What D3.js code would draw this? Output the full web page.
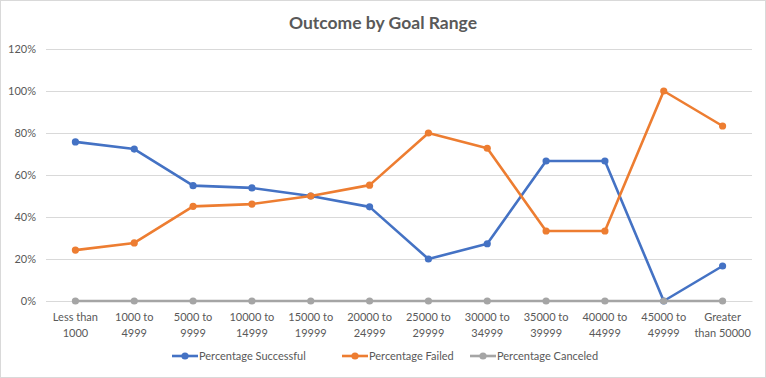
<!DOCTYPE html>
<html><head><meta charset="utf-8">
<script src="https://cdn.jsdelivr.net/npm/d3@7"></script>
<style>
html,body{margin:0;padding:0;background:#fff;}
svg{display:block;font-family:Lato,"Open Sans",sans-serif;}
</style></head>
<body>
<svg id="chart" width="766" height="378"></svg>
<script>
const categories = [["Less than","1000"],["1000 to","4999"],["5000 to","9999"],["10000 to","14999"],["15000 to","19999"],["20000 to","24999"],["25000 to","29999"],["30000 to","34999"],["35000 to","39999"],["40000 to","44999"],["45000 to","49999"],["Greater","than 50000"]];
const successful = [75.76, 72.36, 54.92, 53.85, 50.0, 44.83, 20.0, 27.27, 66.67, 66.67, 0, 16.67];
const failed = [24.24, 27.64, 45.08, 46.15, 50.0, 55.17, 80.0, 72.73, 33.33, 33.33, 100, 83.33];
const canceled = [0,0,0,0,0,0,0,0,0,0,0,0];
const seriesNames = ["Percentage Successful","Percentage Failed","Percentage Canceled"];
const seriesColors = ["#4472C4","#ED7D31","#A5A5A5"];
const yTicks = [0,20,40,60,80,100,120];

const svg = d3.select("#chart");
const W = 766, H = 378;
svg.append("rect").attr("x",0.5).attr("y",0.5).attr("width",W-1).attr("height",H-1)
  .attr("fill","#fff").attr("stroke","#D9D9D9");

const pLeft = 46, pRight = 752, pTop = 49, pBottom = 301;
const x = d3.scaleBand().domain(d3.range(categories.length)).range([pLeft,pRight]).padding(0);
const y = d3.scaleLinear().domain([0,120]).range([pBottom,pTop]);

svg.append("text").attr("x",383).attr("y",29).attr("text-anchor","middle")
  .attr("font-size",17.5).attr("font-weight","bold").attr("fill","#595959")
  .text("Outcome by Goal Range");

const yAxis = d3.axisLeft(y).tickValues(yTicks).tickFormat(d=>d+"%").tickSize(-(pRight-pLeft)).tickPadding(10);
const gy = svg.append("g").attr("transform",`translate(${pLeft},0)`).call(yAxis);
gy.select(".domain").remove();
gy.selectAll(".tick line").attr("stroke","#D9D9D9").attr("stroke-width",1);
gy.selectAll(".tick text").attr("fill","#595959").attr("font-size",11).attr("font-family","Lato,'Open Sans',sans-serif");

const xAxis = d3.axisBottom(x).tickSize(0).tickFormat("");
const gx = svg.append("g").attr("transform",`translate(0,${pBottom})`).call(xAxis);
gx.select(".domain").attr("stroke","#D9D9D9");
gx.selectAll(".tick").each(function(d){
  const t = d3.select(this).append("text").attr("fill","#595959").attr("font-size",11)
    .attr("text-anchor","middle").attr("font-family","Lato,'Open Sans',sans-serif");
  categories[d].forEach((s,i)=>t.append("tspan").attr("x",0).attr("y",20+i*16).text(s));
});

const data = [successful, failed, canceled];
const line = d3.line().x((d,i)=>x(i)+x.bandwidth()/2).y(d=>y(d));
data.forEach((vals,si)=>{
  const g = svg.append("g");
  g.append("path").attr("d",line(vals)).attr("fill","none").attr("stroke",seriesColors[si])
    .attr("stroke-width",2.6).attr("stroke-linejoin","round").attr("stroke-linecap","round");
  g.selectAll("circle").data(vals).join("circle")
    .attr("cx",(d,i)=>x(i)+x.bandwidth()/2).attr("cy",d=>y(d)).attr("r",3.6)
    .attr("fill",seriesColors[si]);
});

const legendX = [172, 342, 470];
const lg = svg.append("g");
seriesNames.forEach((n,i)=>{
  const g = lg.append("g").attr("transform",`translate(${legendX[i]},356)`);
  g.append("line").attr("x1",0).attr("x2",26).attr("y1",0).attr("y2",0)
    .attr("stroke",seriesColors[i]).attr("stroke-width",2.6);
  g.append("circle").attr("cx",13).attr("cy",0).attr("r",3.6).attr("fill",seriesColors[i]);
  g.append("text").attr("x",27).attr("y",4).attr("font-size",11).attr("fill","#595959").text(n);
});
</script>
</body></html>
